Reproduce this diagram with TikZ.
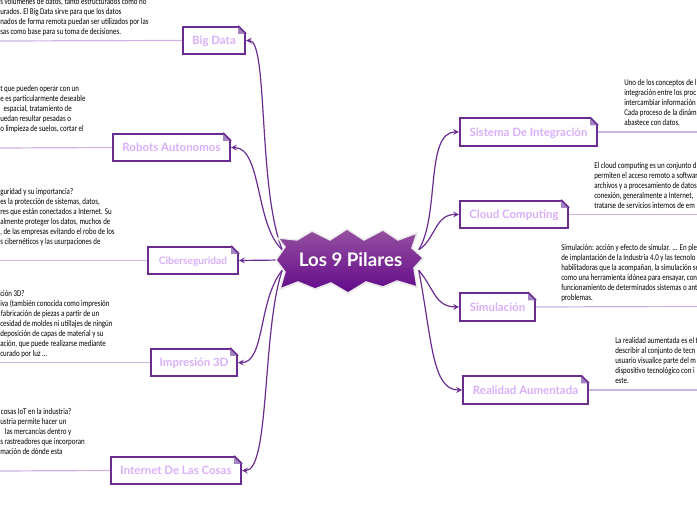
\documentclass[tikz,border=0pt]{standalone}
\usepackage{fontspec}
\setmainfont{Lato}
\newfontfamily\notafont[FakeStretch=0.79]{Carlito}
\usetikzlibrary{shadows,backgrounds}
\definecolor{TRAZO}{HTML}{6B2C91}
\definecolor{ROTULO}{HTML}{D9AEFB}
\definecolor{RAMA}{HTML}{CDB4E4}
\definecolor{DOBLEZ}{HTML}{A385C4}
\definecolor{ESTRELLAA}{HTML}{96509F}
\definecolor{ESTRELLAB}{HTML}{620A8B}
\tikzset{
  tema/.style={draw=TRAZO, line width=1.5pt, fill=white, inner sep=0pt, minimum height=20.5pt,
    text=ROTULO, text height=6.4pt, text depth=0pt, font=\fontsize{8.6}{10}\bfseries\selectfont,
    drop shadow={opacity=0.3, shadow xshift=0.5pt, shadow yshift=-0.8pt}},
  nota/.style={anchor=north west, inner sep=0pt, align=left, text=black,
    font=\notafont\fontsize{6.6}{7.5}\selectfont},
  rama/.style={draw=RAMA, line width=0.9pt},
  enlace/.style={draw=TRAZO, line width=0.9pt, -stealth}
}
\begin{document}
\begin{tikzpicture}[x=0.75pt, y=-0.75pt]
            \useasboundingbox (0,0) rectangle (697,520);

            \node[inner sep=0pt, minimum width=102pt, minimum height=15pt, text=white,
                font=\fontsize{14}{15}\bfseries\selectfont] (hub) at (350.5,260) {Los 9 Pilares};

            % izquierda
            \node[tema, minimum width=46.5pt] (bigdata) at (214,40.5) {Big Data};
            \node[tema, minimum width=87.75pt] (robots) at (171.5,147.5) {Robots Autonomos};
            \node[tema, minimum width=67.5pt, font=\fontsize{7.6}{9}\bfseries\selectfont] (ciber) at (193,260.5) {Ciberseguridad};
            \node[tema, minimum width=64.5pt] (impresion) at (194,362.5) {Impresión 3D};
            \node[tema, minimum width=97.5pt] (internet) at (176,470.5) {Internet De Las Cosas};

            % derecha
            \node[tema, minimum width=102.75pt] (sistema) at (528.5,132) {Sistema De Integración};
            \node[tema, minimum width=81pt] (cloud) at (514,214.5) {Cloud Computing};
            \node[tema, minimum width=56.25pt] (simulacion) at (497.5,307) {Simulación};
            \node[tema, minimum width=93.75pt] (realidad) at (525.5,390) {Realidad Aumentada};

            % esquina doblada
            \foreach \n in {bigdata,robots,ciber,impresion,internet,sistema,cloud,simulacion,realidad} {
                \fill[white] ([xshift=-6.2pt,yshift=0.9pt]\n.north east) -- ([xshift=0.9pt,yshift=0.9pt]\n.north east)
                    -- ([xshift=0.9pt,yshift=-6.2pt]\n.north east) -- cycle;
                \fill[DOBLEZ] ([xshift=-6pt]\n.north east) -- ([yshift=-6pt]\n.north east)
                    -- ([xshift=-6pt,yshift=-6pt]\n.north east) -- cycle;
                \draw[TRAZO, line width=1.2pt] ([xshift=-6pt]\n.north east) -- ([yshift=-6pt]\n.north east);
            }

            \node[nota] (tbigdata) at (0,-2) {s volúmenes de datos, tanto estructurados como no\\urados. El Big Data sirve para que los datos\\nados de forma remota puedan ser utilizados por las\\sas como base para su toma de decisiones.};
            \node[nota] (trobots) at (0,85) {t que pueden operar con un\\e es particularmente deseable\\\makebox[2.5pt]{}espacial, tratamiento de\\uedan resultar pesadas o\\o limpieza de suelos, cortar el};
            \node[nota] (tciber) at (0,188) {guridad y su importancia?\\es la protección de sistemas, datos,\\res que están conectados a Internet. Su\\almente proteger los datos, muchos de\\, de las empresas evitando el robo de los\\s cibernéticos y las usurpaciones de};
            \node[nota] (timpresion) at (0,290) {ción 3D?\\iva (también conocida como impresión\\\makebox[0.5pt]{}fabricación de piezas a partir de un\\cesidad de moldes ni utillajes de ningún\\deposición de capas de material y su\\ación, que puede realizarse mediante\\curado por luz ...};
            \node[nota] (tinternet) at (0,408) {\makebox[0.5pt]{}cosas IoT en la industria?\\ustria permite hacer un\\\makebox[3.5pt]{}las mercancías dentro y\\s rastreadores que incorporan\\mación de dónde esta};
            \node[nota] (tsistema) at (624,79) {Uno de los conceptos de l\\integración entre los proc\\intercambiar información\\Cada proceso de la dinámi\\abastece con datos.};
            \node[nota] (tcloud) at (594,162) {El cloud computing es un conjunto d\\permiten el acceso remoto a softwar\\archivos y a procesamiento de datos\\conexión, generalmente a Internet,\\tratarse de servicios internos de em};
            \node[nota] (tsimulacion) at (561,244) {Simulación: acción y efecto de simular. ... En ple\\de implantación de la Industria 4.0 y las tecnolo\\habilitadoras que la acompañan, la simulación se\\como una herramienta idónea para ensayar, con\\funcionamiento de determinados sistemas o anti\\problemas.};
            \node[nota] (trealidad) at (615,337) {La realidad aumentada es el t\\describir al conjunto de tecn\\usuario visualice parte del m\\dispositivo tecnológico con i\\este.};

            \coordinate (fbigdata) at (0,41);
            \coordinate (frobots) at (0,148);
            \coordinate (fciber) at (0,260.5);
            \coordinate (fimpresion) at (0,362.5);
            \coordinate (finternet) at (0,471);
            \coordinate (fsistema) at (697,132);
            \coordinate (fcloud) at (697,214.5);
            \coordinate (fsimulacion) at (697,306.5);
            \coordinate (frealidad) at (697,390);

            \begin{pgfonlayer}{background}
                \foreach \n in {bigdata,robots,ciber,impresion,internet}
                    \draw[rama] (\n.west) -- (f\n);
                \foreach \n in {sistema,cloud,simulacion,realidad}
                    \draw[rama] (\n.east) -- (f\n);

                \draw[enlace] (hub.north west) .. controls (258,190) and (268,41) .. (bigdata.east);
                \draw[enlace] (hub.north west) .. controls (255,225) and (262,148) .. (robots.east);
                \draw[enlace] (hub.west) -- (ciber.east);
                \draw[enlace] (hub.south west) .. controls (258,300) and (265,363) .. (impresion.east);
                \draw[enlace] (hub.south west) .. controls (262,330) and (270,471) .. (internet.east);
                \draw[enlace] (hub.north east) .. controls (440,215) and (425,132) .. (sistema.west);
                \draw[enlace] (hub.north east) .. controls (435,240) and (435,214) .. (cloud.west);
                \draw[enlace] (hub.south east) .. controls (435,290) and (435,306.5) .. (simulacion.west);
                \draw[enlace] (hub.south east) .. controls (432,340) and (432,390) .. (realidad.west);

                % estrella central
                \path[draw=black!8, line width=1.1pt, top color=ESTRELLAA, bottom color=ESTRELLAB,
                    drop shadow={opacity=0.2, shadow xshift=0.4pt, shadow yshift=-0.8pt}]
                    (276,260) -- (285,247) -- (278,238) -- (297,240) -- (312,231) -- (330,240) -- (347,229)
                    -- (364,240) -- (383,230) -- (398,240) -- (417,233) -- (412,248) -- (423,258) -- (414,268)
                    -- (417,287) -- (397,281) -- (383,287) -- (366,282) -- (348,293) -- (331,283) -- (315,289)
                    -- (298,282) -- (280,289) -- (285,272) -- cycle;
            \end{pgfonlayer}
        \end{tikzpicture}
\end{document}
